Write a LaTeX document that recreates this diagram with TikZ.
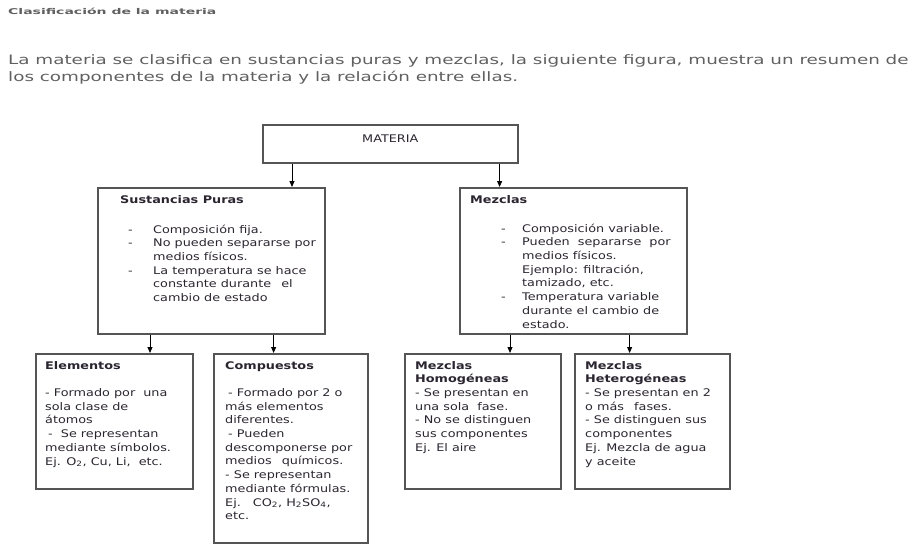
\documentclass[tikz,border=0pt]{standalone}
\usepackage{fontspec}
\setmainfont{DejaVu Sans}
\newfontfamily\boxfont[FakeStretch=1.22]{DejaVu Sans}
\newfontfamily\parafont[FakeStretch=1.41]{DejaVu Sans}
\newfontfamily\headfont[FakeStretch=1.75]{DejaVu Sans}
\usetikzlibrary{arrows.meta,positioning}
\definecolor{boxline}{HTML}{555555}
\definecolor{inktxt}{HTML}{2B2530}
\definecolor{webgray}{HTML}{606060}

\begin{document}
\begin{tikzpicture}[x=1pt,y=-1pt,
  box/.style={draw=boxline,line width=1.6pt,anchor=north west,inner sep=0pt},
  txt/.style={anchor=north west,align=left,inner sep=0pt,text=inktxt,
    font=\boxfont\fontsize{10.5}{13.7}\selectfont},
  web/.style={anchor=base west,inner sep=0pt,text=webgray},
  arr/.style={-{Triangle[length=6pt,width=5pt]},line width=0.8pt,black}]
  \useasboundingbox (0,0) rectangle (918,555);
  % encabezado y parrafo
  \node[web,font=\headfont\fontsize{8}{10}\selectfont\bfseries] (titulo) at (8,14) {Clasificación de la materia};
  \node[web,font=\parafont\fontsize{13}{17}\selectfont] (par1) at (8,64) {La materia se clasifica en sustancias puras y mezclas, la siguiente figura, muestra un resumen de};
  \node[web,font=\parafont\fontsize{13}{17}\selectfont] (par2) at (8,81) {los componentes de la materia y la relación entre ellas.};
  % cajas
  \node[box,minimum width=255pt,minimum height=38pt] (materia) at (262,124) {};
  \node[box,minimum width=227pt,minimum height=146pt] (puras) at (97,187) {};
  \node[box,minimum width=227pt,minimum height=146pt] (mezclas) at (459,187) {};
  \node[box,minimum width=157pt,minimum height=135pt] (elem) at (35,353) {};
  \node[box,minimum width=154pt,minimum height=189pt] (comp) at (213,353) {};
  \node[box,minimum width=156pt,minimum height=135pt] (homo) at (404,353) {};
  \node[box,minimum width=155pt,minimum height=135pt] (hetero) at (574,353) {};
  % textos
  \node[txt,anchor=center] (materiatxt) at ([yshift=5pt]materia.center) {MATERIA};
  \node[txt] (purastxt) at ([shift={(23,8)}]puras.north west)
    {\textbf{Sustancias Puras}\\[16.3pt]
     \makebox[33pt][l]{\hspace*{8pt}-}Composición fija.\\
     \makebox[33pt][l]{\hspace*{8pt}-}No pueden separarse por\\
     \hspace*{33pt}medios físicos.\\
     \makebox[33pt][l]{\hspace*{8pt}-}La temperatura se hace\\
     \hspace*{33pt}constante durante\hspace{6pt} el\\
     \hspace*{33pt}cambio de estado};
  \node[txt] (mezclastxt) at ([shift={(11,8)}]mezclas.north west)
    {\textbf{Mezclas}\\[15.3pt]
     \makebox[52pt][l]{\hspace*{31pt}-}Composición variable.\\
     \makebox[52pt][l]{\hspace*{31pt}-}Pueden\hspace{4pt} separarse\hspace{4pt} por\\
     \hspace*{52pt}medios físicos.\\
     \hspace*{52pt}Ejemplo: filtración,\\
     \hspace*{52pt}tamizado, etc.\\
     \makebox[52pt][l]{\hspace*{31pt}-}Temperatura variable\\
     \hspace*{52pt}durante el cambio de\\
     \hspace*{52pt}estado.};
  \node[txt] (elemtxt) at ([shift={(10,8)}]elem.north west)
    {\textbf{Elementos}\\[13.7pt]
     - Formado por\hspace{4pt} una\\
     sola clase de\\
     átomos\\
     \hspace*{3pt}-\hspace{4pt} Se representan\\
     mediante símbolos.\\
     Ej. O\textsubscript{2}, Cu, Li,\hspace{8pt}etc.};
  \node[txt] (comptxt) at ([shift={(12,8)}]comp.north west)
    {\textbf{Compuestos}\\[13.7pt]
     \hspace*{3pt}- Formado por 2 o\\
     más elementos\\
     diferentes.\\
     \hspace*{3pt}- Pueden\\
     descomponerse por\\
     medios\hspace{6pt} químicos.\\
     - Se representan\\
     mediante fórmulas.\\
     Ej.\hspace{12pt}CO\textsubscript{2}, H\textsubscript{2}SO\textsubscript{4},\\
     etc.};
  \node[txt] (homotxt) at ([shift={(11,8)}]homo.north west)
    {\textbf{Mezclas}\\
     \textbf{Homogéneas}\\
     - Se presentan en\\
     una sola\hspace{4pt} fase.\\
     - No se distinguen\\
     sus componentes\\
     Ej. El aire};
  \node[txt] (heterotxt) at ([shift={(11,8)}]hetero.north west)
    {\textbf{Mezclas}\\
     \textbf{Heterogéneas}\\
     - Se presentan en 2\\
     o más\hspace{6pt} fases.\\
     - Se distinguen sus\\
     componentes\\
     Ej. Mezcla de agua\\
     y aceite};
  % flechas
  \draw[arr] ([xshift=30pt]materia.south west) -- ([xshift=30pt]materia.south west |- puras.north);
  \draw[arr] ([xshift=-19pt]materia.south east) -- ([xshift=-19pt]materia.south east |- mezclas.north);
  \draw[arr] ([xshift=53pt]puras.south west) -- ([xshift=53pt]puras.south west |- elem.north);
  \draw[arr] ([xshift=-52pt]puras.south east) -- ([xshift=-52pt]puras.south east |- comp.north);
  \draw[arr] ([xshift=51pt]mezclas.south west) -- ([xshift=51pt]mezclas.south west |- homo.north);
  \draw[arr] ([xshift=-58pt]mezclas.south east) -- ([xshift=-58pt]mezclas.south east |- hetero.north);
\end{tikzpicture}
\end{document}
